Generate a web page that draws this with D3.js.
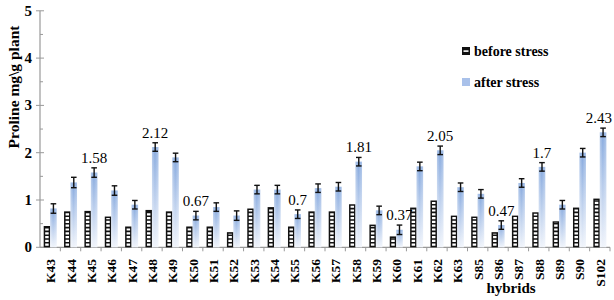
<html>
<head>
<style>
    body { margin: 0; background: #fff; }
    svg text { font-family: "Liberation Serif", "Times New Roman", "DejaVu Serif", serif; }
    .bold { font-weight: bold; }
</style>
</head>
<body>
<svg id="chart" width="614" height="300"></svg>
<script src="https://d3js.org/d3.v7.min.js"></script>
<script>
    let hybrids = ["K43","K44","K45","K46","K47","K48","K49","K50","K51","K52","K53","K54","K55","K56",
        "K57","K58","K59","K60","K61","K62","K63","S85","S86","S87","S88","S89","S90","S102"]
    let before = [0.45,0.76,0.77,0.65,0.44,0.79,0.76,0.44,0.44,0.32,0.82,0.85,0.44,0.76,
        0.76,0.91,0.48,0.23,0.84,0.99,0.67,0.65,0.32,0.67,0.74,0.55,0.84,1.03]
    let after = [0.82,1.37,1.58,1.20,0.90,2.12,1.90,0.67,0.85,0.67,1.22,1.22,0.70,1.25,
        1.28,1.81,0.78,0.37,1.71,2.05,1.27,1.13,0.47,1.36,1.70,0.90,2.00,2.43]
    let afterErr = [0.10,0.11,0.10,0.10,0.09,0.09,0.09,0.09,0.09,0.10,0.09,0.09,0.09,0.09,
        0.09,0.09,0.09,0.10,0.09,0.09,0.09,0.09,0.09,0.09,0.09,0.09,0.09,0.09]
    let labelled = ["K45","K48","K50","K55","K58","K60","K62","S86","S88","S102"]
    let yTicks = [0,1,2,3,4,5]

    let svg = d3.select("#chart")
    let plotLeft = 40, plotRight = 610, plotTop = 10.8, plotBottom = 247.3

    let x = d3.scaleBand().domain(hybrids).range([plotLeft, plotRight])
    let x1 = d3.scaleBand().domain(["before","after"]).range([0, x.bandwidth()]).paddingOuter(0.57)
    let y = d3.scaleLinear().domain([0,5]).range([plotBottom, plotTop])

    let defs = svg.append("defs")
    let grad = defs.append("linearGradient").attr("id","blueGrad")
        .attr("x1",0).attr("y1",0).attr("x2",0).attr("y2",1)
    grad.append("stop").attr("offset","0%").attr("stop-color","#86a9de")
    grad.append("stop").attr("offset","100%").attr("stop-color","#f0f4fb")
    let gradH = defs.append("linearGradient").attr("id","shine")
        .attr("x1",0).attr("y1",0).attr("x2",1).attr("y2",0)
    gradH.append("stop").attr("offset","0%").attr("stop-color","#fff").attr("stop-opacity",0.35)
    gradH.append("stop").attr("offset","45%").attr("stop-color","#fff").attr("stop-opacity",0)
    gradH.append("stop").attr("offset","100%").attr("stop-color","#fff").attr("stop-opacity",0.3)

    // y axis
    let yAxis = svg.append("g")
    yAxis.append("line").attr("x1",plotLeft).attr("x2",plotLeft).attr("y1",y(5)).attr("y2",y(0))
        .attr("stroke","#999").attr("stroke-width",1.2)
    yAxis.selectAll(".major").data(yTicks).enter().append("line")
        .attr("x1",plotLeft-4).attr("x2",plotLeft+4).attr("y1",d => y(d)).attr("y2",d => y(d))
        .attr("stroke","#999")
    yAxis.selectAll(".minor").data(yTicks.slice(0,-1).map(d => d + 0.5)).enter().append("line")
        .attr("x1",plotLeft).attr("x2",plotLeft+3).attr("y1",d => y(d)).attr("y2",d => y(d))
        .attr("stroke","#999")
    yAxis.selectAll("text").data(yTicks).enter().append("text")
        .attr("class","bold").attr("x",plotLeft-8).attr("y",d => y(d)+5)
        .attr("text-anchor","end").attr("font-size",15).text(d => d)

    svg.append("text").attr("class","bold").attr("font-size",15.5)
        .attr("transform","translate(19,87) rotate(-90)").attr("text-anchor","middle")
        .text("Proline mg\\g plant")

    // x axis
    svg.append("line").attr("x1",plotLeft).attr("x2",plotRight).attr("y1",plotBottom).attr("y2",plotBottom)
        .attr("stroke","#999").attr("stroke-width",1.2)
    svg.selectAll(".xtick").data(hybrids).enter().append("line")
        .attr("x1",d => x(d)+x.step()).attr("x2",d => x(d)+x.step())
        .attr("y1",plotBottom).attr("y2",plotBottom+4).attr("stroke","#999")
    svg.selectAll(".xlab").data(hybrids).enter().append("text")
        .attr("class","bold").attr("font-size",13.5).attr("text-anchor","end")
        .attr("transform",d => `translate(${x(d)+x.bandwidth()/2+5},259) rotate(-90)`)
        .text(d => d)
    svg.append("text").attr("class","bold").attr("font-size",15).attr("text-anchor","middle")
        .attr("x",511).attr("y",293).text("hybrids")

    // before bars: black with white ladder
    let bw = x1.bandwidth()
    let gb = svg.append("g")
    gb.selectAll("rect").data(hybrids).enter().append("rect")
        .attr("x",(d,i) => x(d)+x1("before")).attr("y",(d,i) => y(before[i]))
        .attr("width",bw).attr("height",(d,i) => y(0)-y(before[i])).attr("fill","#111")
    gb.selectAll("line").data(hybrids).enter().append("line")
        .attr("x1",(d,i) => x(d)+x1("before")+bw/2).attr("x2",(d,i) => x(d)+x1("before")+bw/2)
        .attr("y1",(d,i) => y(0)-1.5).attr("y2",(d,i) => y(before[i])+1.5)
        .attr("stroke","#fff").attr("stroke-width",bw-3).attr("stroke-dasharray","2.2,1.6")

    // after bars
    let ga = svg.append("g")
    ga.selectAll(".a").data(hybrids).enter().append("rect")
        .attr("x",d => x(d)+x1("after")).attr("y",(d,i) => y(after[i]))
        .attr("width",bw).attr("height",(d,i) => y(0)-y(after[i])).attr("fill","url(#blueGrad)")
    ga.selectAll(".s").data(hybrids).enter().append("rect")
        .attr("x",d => x(d)+x1("after")).attr("y",(d,i) => y(after[i]))
        .attr("width",bw).attr("height",(d,i) => y(0)-y(after[i])).attr("fill","url(#shine)")

    // error bars
    let ge = svg.append("g").attr("stroke","#111").attr("stroke-width",1.4)
    hybrids.forEach((d,i) => {
        let cx = x(d)+x1("after")+bw/2
        let y0 = y(after[i]-afterErr[i]), y1 = y(after[i]+afterErr[i])
        ge.append("line").attr("x1",cx).attr("x2",cx).attr("y1",y0).attr("y2",y1)
        ge.append("line").attr("x1",cx-2.8).attr("x2",cx+2.8).attr("y1",y0).attr("y2",y0)
        ge.append("line").attr("x1",cx-2.8).attr("x2",cx+2.8).attr("y1",y1).attr("y2",y1)
    })

    // value labels (kept inside the right edge)
    svg.selectAll(".val").data(labelled).enter().append("text")
        .attr("font-size",15).attr("text-anchor","middle")
        .attr("y",d => { let i = hybrids.indexOf(d); return y(after[i]+afterErr[i]) - 5 })
        .text(d => after[hybrids.indexOf(d)])
        .attr("x",function(d) {
            let cx = x(d)+x1("after")+bw/2
            let half = this.getComputedTextLength()/2
            return Math.min(cx, 612 - half)
        })

    // legend
    let lg = svg.append("g")
    lg.append("rect").attr("x",462).attr("y",47).attr("width",8).attr("height",8).attr("fill","#111")
    lg.append("rect").attr("x",463.5).attr("y",50.3).attr("width",5).attr("height",1.6).attr("fill","#fff")
    lg.append("text").attr("class","bold").attr("font-size",14).attr("x",474).attr("y",56).text("before stress")
    lg.append("rect").attr("x",462).attr("y",78).attr("width",8).attr("height",8).attr("fill","#a9c1ea")
    lg.append("text").attr("class","bold").attr("font-size",14).attr("x",474).attr("y",87).text("after stress")
</script>
</body>
</html>
